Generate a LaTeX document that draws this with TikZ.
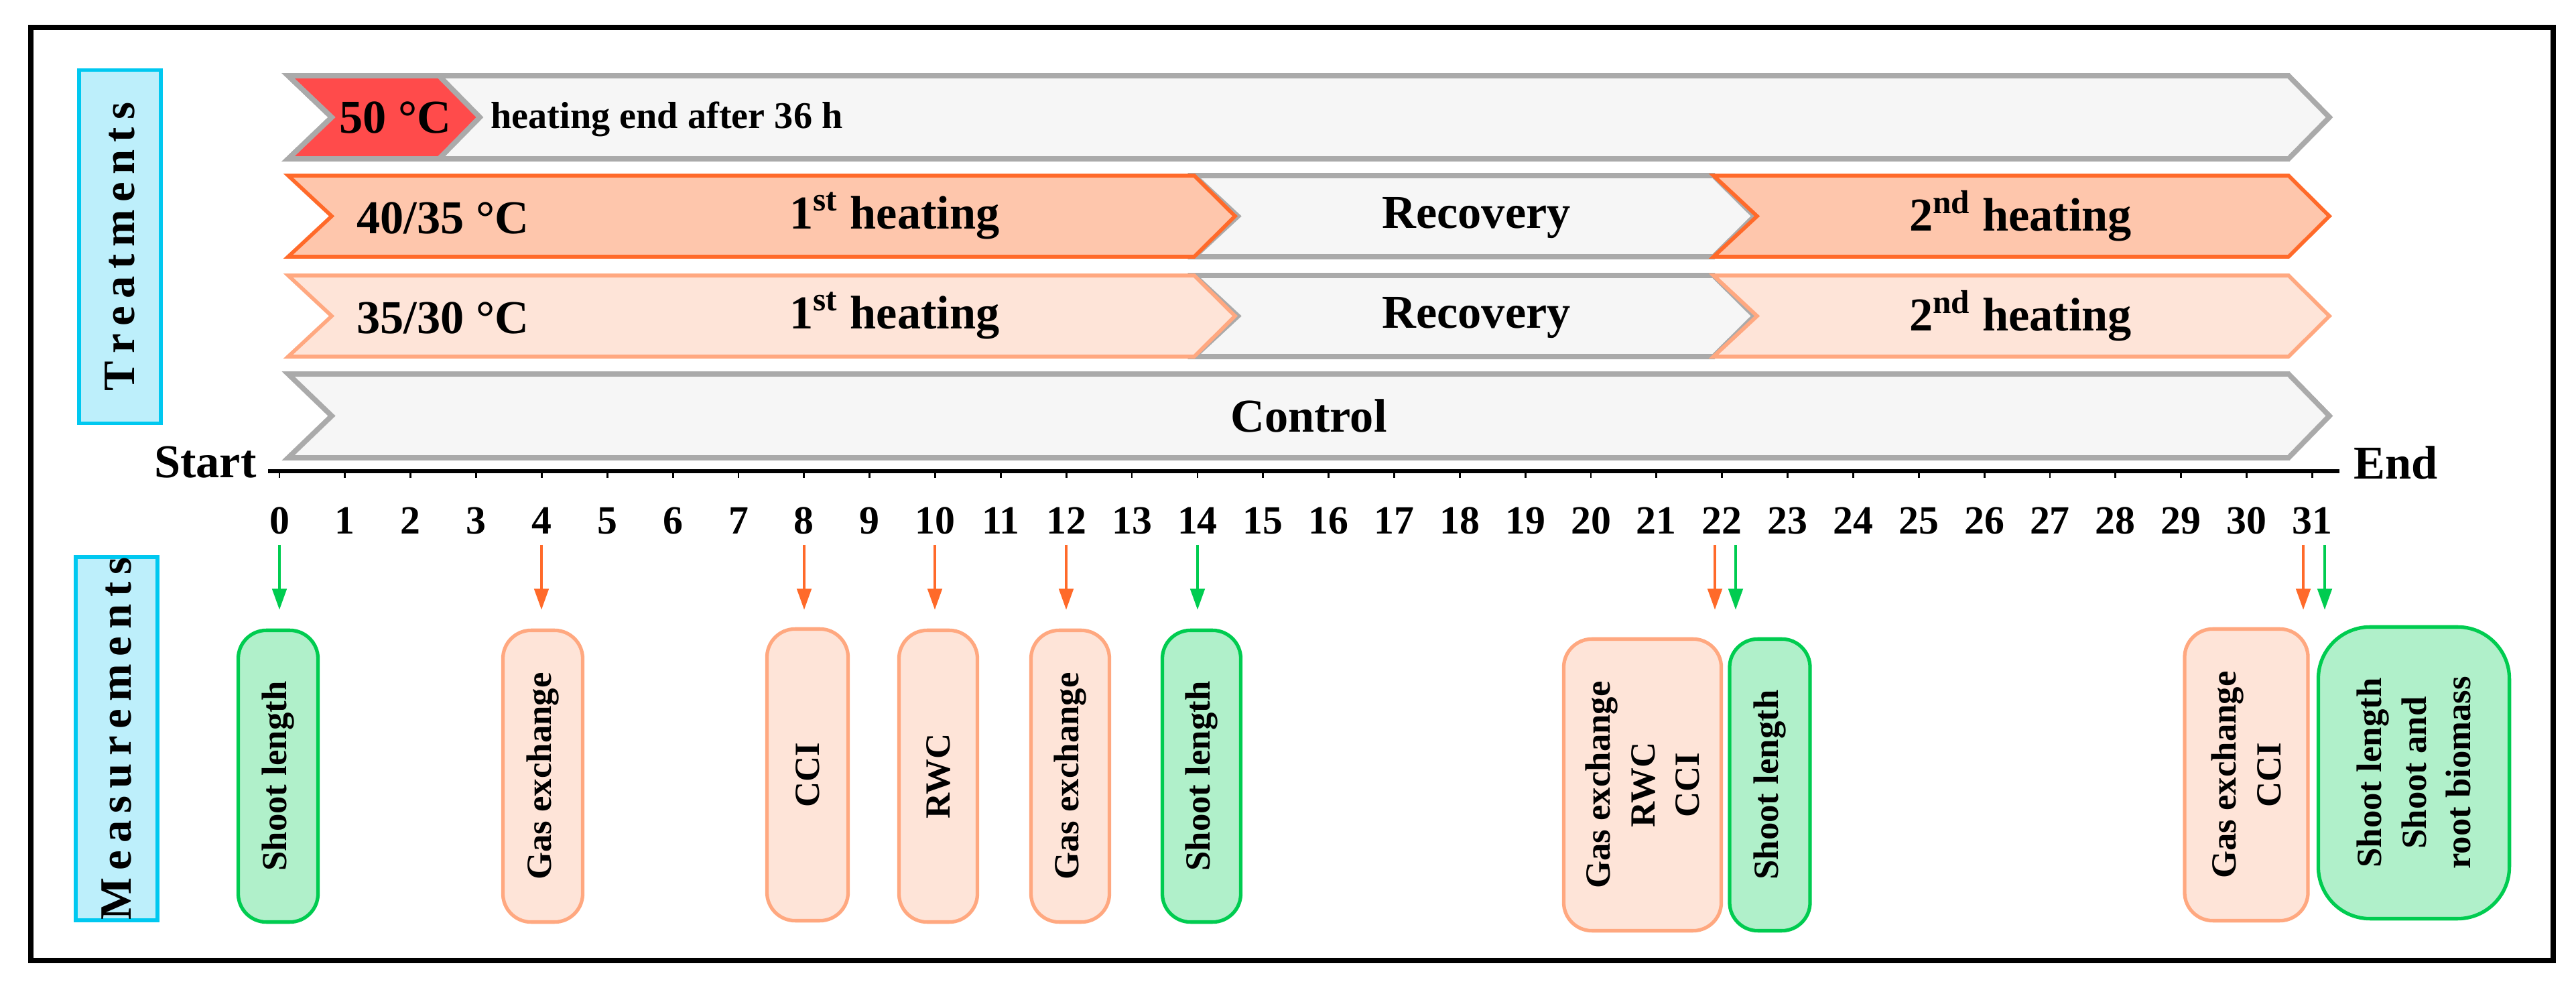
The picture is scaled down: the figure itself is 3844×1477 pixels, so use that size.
\documentclass[tikz,border=0pt]{standalone}
\usepackage{fontspec}
\setmainfont{Liberation Serif}
\usetikzlibrary{arrows.meta}
\definecolor{hotred}{HTML}{FF4B4B}
\definecolor{greyfill}{HTML}{F6F6F6}
\definecolor{greyline}{HTML}{AAAAAA}
\definecolor{orline}{HTML}{FF6A2A}
\definecolor{orfill}{HTML}{FEC6AC}
\definecolor{paleline}{HTML}{FFA880}
\definecolor{palefill}{HTML}{FEE4D8}
\definecolor{grline}{HTML}{00CC50}
\definecolor{grfill}{HTML}{B0F0CA}
\definecolor{blline}{HTML}{00C8F0}
\definecolor{blfill}{HTML}{BDEFFB}
% chevron: x start, x end, top, bottom, style
\newcommand{\chevron}[5]{\draw[#5] (#1,#3) -- (#2,#3) -- ({#2+61},{(#3+#4)/2}) -- (#2,#4) -- (#1,#4) -- ({#1+65},{(#3+#4)/2}) -- cycle;}

\begin{document}
\begin{tikzpicture}[x=0.01cm,y=-0.01cm,font=\bfseries,
  grey/.style={fill=greyfill,draw=greyline,line width=2.2pt},
  hot/.style={fill=hotred,draw=greyline,line width=2.2pt},
  heat/.style={fill=orfill,draw=orline,line width=1.6pt},
  mild/.style={fill=palefill,draw=paleline,line width=1.6pt},
  lab/.style={font=\bfseries\fontsize{20}{22}\selectfont},
  side/.style={draw=blline,fill=blfill,line width=1.5pt,rotate=90,inner sep=0pt,font=\bfseries\fontsize{19}{22}\selectfont,minimum height=1.22cm},
  meas/.style={rotate=90,rounded corners=12pt,line width=1.5pt,align=center,inner sep=0pt,minimum width=4.35cm,font=\bfseries\fontsize{15}{19}\selectfont},
  ms/.style={meas,draw=paleline,fill=palefill},
  gs/.style={meas,draw=grline,fill=grfill},
  pin/.style={-{Triangle[length=9pt,width=6pt]},line width=1.3pt}]
\useasboundingbox (0,0) rectangle (3844,1477);
\draw[line width=2.5pt] (46,41) rectangle (3810,1433);

% treatments
\node[side,minimum width=5.27cm] (treat) at (179,368) {T\,r\,e\,a\,t\,m\,e\,n\,t\,s};
\chevron{430}{3415}{113}{237}{grey}
\chevron{430}{655}{113}{237}{hot}
\node[lab] (hot50) at (590,175) {50 °C};
\node[lab,anchor=west,font=\bfseries\fontsize{16}{18}\selectfont] (hotend) at (720,178) {heating end after 36 h};

\chevron{1782}{2557}{262}{383}{grey}
\chevron{430}{1782}{262}{383}{heat}
\chevron{2557}{3415}{262}{383}{heat}
\node[lab,anchor=west] (t40) at (520,325) {40/35 °C};
\node[lab] (h40a) at (1335,322) {1\textsuperscript{st} heating};
\node[lab] (r40) at (2203,325) {Recovery};
\node[lab] (h40b) at (3015,322) {2\textsuperscript{nd} heating};

\chevron{1782}{2557}{411}{532}{grey}
\chevron{430}{1782}{411}{532}{mild}
\chevron{2557}{3415}{411}{532}{mild}
\node[lab,anchor=west] (t35) at (520,474) {35/30 °C};
\node[lab] (h35a) at (1335,471) {1\textsuperscript{st} heating};
\node[lab] (r35) at (2203,474) {Recovery};
\node[lab] (h35b) at (3015,471) {2\textsuperscript{nd} heating};

\chevron{430}{3415}{558}{683}{grey}
\node[lab] (ctrl) at (1953,620) {Control};

% time axis
\draw[line width=1.6pt] (400,703) -- (3491,703);
\node[lab,anchor=east] (start) at (395,690) {Start};
\node[lab,anchor=west] (end) at (3500,690) {End};
\foreach \d in {0,...,31}{
  \draw[line width=0.8pt] ({417+97.85*\d},703) -- ({417+97.85*\d},713);
  \node[font=\bfseries\fontsize{17}{19}\selectfont] (d\d) at ({417+97.85*\d},777) {\d};
}

% measurements
\node[side,minimum width=5.27cm] (meas) at (174,1102) {M\,e\,a\,s\,u\,r\,e\,m\,e\,n\,t\,s};
\node[gs,minimum height=1.19cm] (m0) at (415,1158) {Shoot length};
\node[ms,minimum height=1.19cm] (m4) at (810,1158) {Gas exchange};
\node[ms,minimum height=1.21cm] (m8) at (1205,1156) {CCI};
\node[ms,minimum height=1.17cm] (m10) at (1400,1158) {RWC};
\node[ms,minimum height=1.17cm] (m12) at (1597,1158) {Gas exchange};
\node[gs,minimum height=1.17cm] (m14) at (1793,1158) {Shoot length};
\node[ms,minimum height=2.35cm] (m22a) at (2451,1171) {Gas exchange\\RWC\\CCI};
\node[gs,minimum height=1.2cm] (m22b) at (2641,1171) {Shoot length};
\node[ms,minimum height=1.84cm] (m31a) at (3352,1156) {Gas exchange\\CCI};
\node[gs,minimum height=2.85cm,rounded corners=22pt] (m31b) at (3602,1153) {Shoot length\\Shoot and\\root biomass};

\foreach \n/\x/\c in {a/417/grline,b/808/orline,c/1200/orline,d/1395/orline,e/1591/orline,f/1787/grline,g/2559/orline,h/2590/grline,i/3437/orline,j/3469/grline}{
  \coordinate (p\n) at (\x,813);
  \coordinate (q\n) at (\x,910);
  \draw[pin,\c] (p\n) -- (q\n);
}
\end{tikzpicture}
\end{document}
